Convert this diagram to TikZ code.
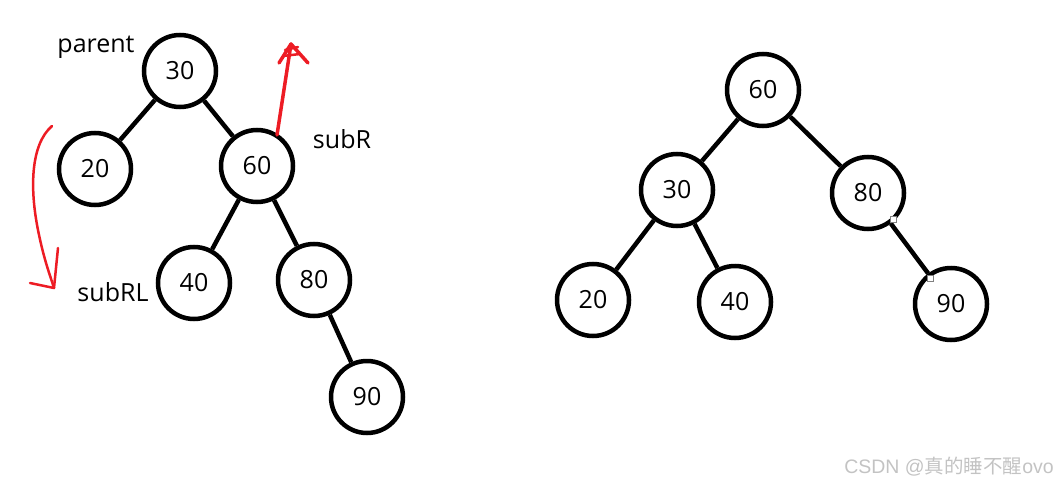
\documentclass[tikz,border=0pt]{standalone}
\usepackage{fontspec}
\setmainfont{Open Sans}
\newfontfamily\cjk{Noto Sans CJK SC}
\newfontfamily\wmfont{Liberation Sans}
\begin{document}
\begin{tikzpicture}[x=1pt,y=-1pt,
  tn/.style={circle,draw=black,line width=4.5pt,minimum size=72pt,inner sep=0pt,font=\fontsize{25}{29}\selectfont},
  ed/.style={line width=4.5pt,black},
  lbl/.style={font=\fontsize{25}{29}\selectfont,inner sep=0pt},
  red/.style={draw={rgb,255:red,237;green,28;blue,36},line cap=round,line join=round},
  hnd/.style={draw=gray,fill=white,line width=0.8pt,minimum size=6pt,inner sep=0pt,rectangle}]
\useasboundingbox (0,0) rectangle (1059,484);
% left tree
\node[tn] (a30) at (180,71) {30};
\node[tn] (a20) at (95,169) {20};
\node[tn] (a60) at (257,166) {60};
\node[tn] (a40) at (194,283) {40};
\node[tn] (a80) at (314,280) {80};
\node[tn] (a90) at (367,397) {90};
\draw[ed] (a30) -- (a20);
\draw[ed] (a30) -- (a60);
\draw[ed] (a60) -- (a40);
\draw[ed] (a60) -- (a80);
\draw[ed] (a80) -- (a90);
\node[lbl] (lp) at (96,47) {parent};
\node[lbl] (lr) at (342,139) {subR};
\node[lbl] (lrl) at (113,292) {subRL};
% red arrows
\coordinate (u0) at (277,135);
\coordinate (u1) at (291,44);
\coordinate (uh1) at (279,63);
\coordinate (uh2) at (308,63);
\draw[red,line width=3.5pt] (u0) -- (u1);
\draw[red,line width=3.5pt] (uh1) -- (u1) -- (uh2);
\draw[red,line width=2.5pt] (285,50) -- (298,47) (283,56) -- (300,54);
\coordinate (c0) at (52,126);
\coordinate (c1) at (54,288);
\draw[red,line width=2.5pt] (c0) .. controls (30,145) and (30,190) .. (38,230) .. controls (44,260) and (50,275) .. (c1);
\draw[red,line width=2.5pt] (30,283) -- (c1) -- (58,248);
% right tree
\node[tn] (b60) at (763,90) {60};
\node[tn] (b30) at (677,190) {30};
\node[tn] (b80) at (868,193) {80};
\node[tn] (b20) at (593,300) {20};
\node[tn] (b40) at (735,302) {40};
\node[tn] (b90) at (951,304) {90};
\draw[ed] (b60) -- (b30);
\draw[ed] (b60) -- (b80);
\draw[ed] (b30) -- (b20);
\draw[ed] (b30) -- (b40);
\draw[ed] (b80) -- (b90);
\node[hnd] (h1) at (893,219) {};
\node[hnd] (h2) at (930,278) {};
% watermark
\node[font=\fontsize{19.5}{22}\selectfont,text={rgb,255:red,195;green,195;blue,195},inner sep=0pt] (wm) at (949,467) {\wmfont CSDN @\cjk 真的睡不醒\wmfont ovo};
\end{tikzpicture}
\end{document}
